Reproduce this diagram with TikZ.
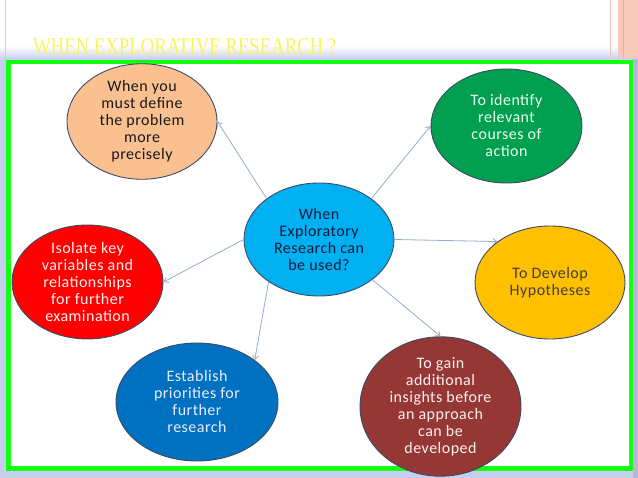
\documentclass[tikz,border=0pt]{standalone}
\usepackage{fontspec}
\setmainfont{Carlito}
\newfontfamily\bubblefont[LetterSpace=3]{Carlito}
\newfontfamily\titlefont{Liberation Serif}
\usetikzlibrary{shapes.geometric,arrows.meta}
\definecolor{lav}{RGB}{198,206,238}
\definecolor{lavdark}{RGB}{184,182,216}
\definecolor{pinkline}{RGB}{240,190,178}
\definecolor{salmon}{RGB}{248,200,184}
\definecolor{titleyellow}{RGB}{248,244,90}
\definecolor{framegreen}{RGB}{20,255,20}
\definecolor{edgecol}{RGB}{150,172,206}
\definecolor{outline}{RGB}{60,74,104}
\definecolor{cCenter}{RGB}{0,176,240}
\definecolor{cPeach}{RGB}{250,192,144}
\definecolor{cGreen}{RGB}{0,160,80}
\definecolor{cRed}{RGB}{255,0,0}
\definecolor{cYellow}{RGB}{255,192,0}
\definecolor{cBlue}{RGB}{0,112,192}
\definecolor{cBrown}{RGB}{149,55,53}
\definecolor{navy}{RGB}{14,28,62}
\tikzset{
  bubble/.style={ellipse, draw=outline, line width=0.9pt, inner sep=0pt, align=center,
    font=\bubblefont\fontsize{16}{17}\selectfont},
  link/.style={draw=edgecol, line width=0.8pt, -{Straight Barb[length=4pt,width=6pt]}}
}
\begin{document}
\begin{tikzpicture}[x=1pt,y=-1pt]
\useasboundingbox (0,0) rectangle (638,478);
% background
\fill[white] (0,0) rectangle (638,478);
\fill[lav] (0,59) rectangle (638,478);
\shade[top color=white,bottom color=lav] (0,46) rectangle (638,59.5);
\fill[lavdark] (633,59) rectangle (638,478);
\draw[pinkline, line width=1pt] (5,0) -- (5,58);
\draw[pinkline, line width=1pt] (610,0) -- (610,58);
\fill[salmon] (618,0) rectangle (638,58);
\draw[pinkline!90!red, line width=0.8pt] (623,0) -- (623,58);
% title
\node[anchor=base west, inner sep=0pt, text=titleyellow, font=\titlefont\fontsize{24}{24}\selectfont, xscale=0.78] (title) at (33,55) {WHEN EXPLORATIVE RESEARCH ?};
% frame
\draw[framegreen, fill=white, line width=4.5pt] (8.25,62.25) rectangle (630.75,468.75);
% nodes
\node[bubble, fill=cCenter, text=navy, minimum width=150pt, minimum height=113pt] (c) at (319,239.5) {When\\Exploratory\\Research can\\be used?};
\node[bubble, fill=cPeach, text=black!90, minimum width=150pt, minimum height=113pt] (tl) at (142,121.5) {When you\\must define\\the problem\\more\\precisely};
\node[bubble, fill=cGreen, text=white!92!green, minimum width=151pt, minimum height=114pt] (tr) at (506.5,126) {To identify\\relevant\\courses of\\action};
\node[bubble, fill=cRed, text=white!94!red, minimum width=151pt, minimum height=114pt] (red) at (87.5,282) {Isolate key\\variables and\\relationships\\for further\\examination};
\node[bubble, fill=cYellow, text=black!85!yellow, minimum width=150pt, minimum height=113pt] (ye) at (550,282.5) {To Develop\\Hypotheses};
\node[bubble, fill=cBlue, text=white!92!blue, minimum width=162pt, minimum height=118pt] (bl) at (197,402) {Establish\\priorities for\\further\\research};
\node[bubble, fill=cBrown, text=white!94!red, minimum width=161pt, minimum height=117pt] (br) at (440.5,406.5) {To gain\\additional\\insights before\\an approach\\can be\\developed};
% connectors
\draw[link] (c.142) -- (tl.east);
\draw[link] (c.38) -- (tr.west);
\draw[link] (c.east) -- (ye.142);
\draw[link] (c.-37) -- (br.north);
\draw[link] (c.-140) -- (bl.36);
\draw[link] (c.west) -- (red.east);
\end{tikzpicture}
\end{document}
